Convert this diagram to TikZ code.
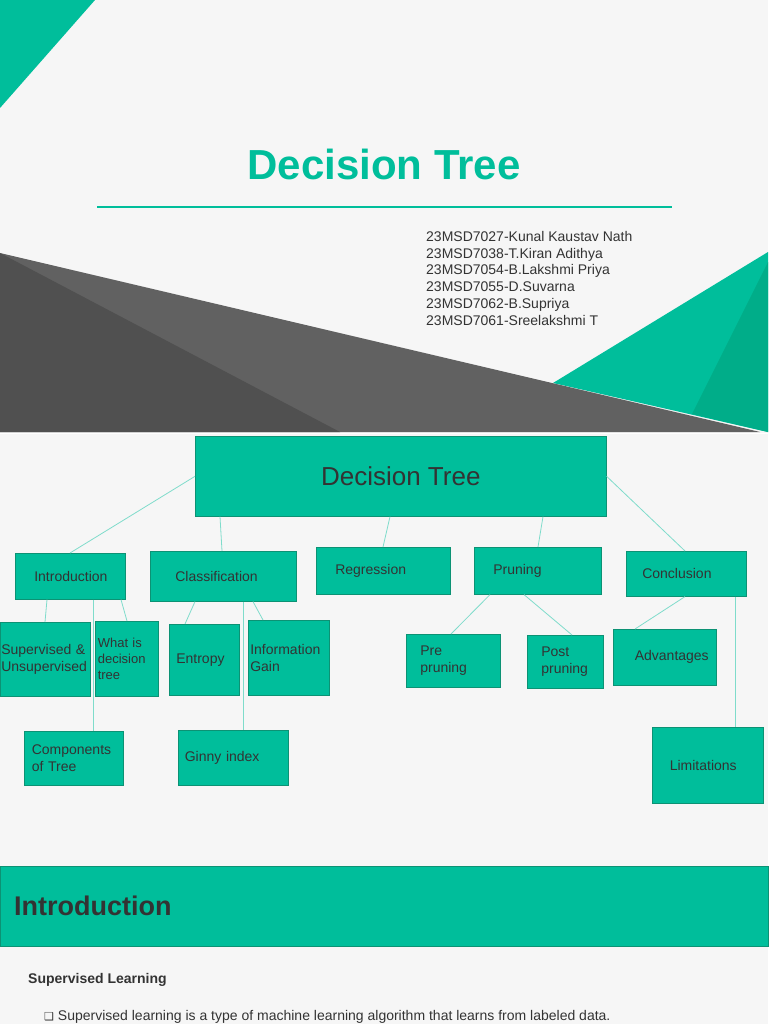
\documentclass[tikz,border=0pt]{standalone}
\usepackage{fontspec}
\setmainfont{Liberation Sans}
\newfontfamily\symfont{DejaVu Sans}
\usetikzlibrary{calc}
\definecolor{bg}{HTML}{F6F6F6}
\definecolor{teal}{HTML}{00BE9B}
\definecolor{tealdk}{HTML}{00AD89}
\definecolor{tealedge}{HTML}{0C9274}
\definecolor{greyA}{HTML}{505050}
\definecolor{greyB}{HTML}{616161}
\definecolor{txt}{HTML}{333333}
\definecolor{conn}{HTML}{7FDCCB}
\tikzset{
  bx/.style={draw=tealedge, fill=teal, line width=0.6pt, anchor=north west, inner sep=2pt, align=left, text=txt, font=\fontsize{14}{17}\selectfont},
  cn/.style={draw=conn, line width=0.8pt}
}
\begin{document}
\begin{tikzpicture}[x=1pt,y=-1pt]
\fill[bg] (0,0) rectangle (768,1024);
\useasboundingbox (0,0) rectangle (768,1024);
% slide 1
\fill[teal] (0,0) -- (95,0) -- (0,108) -- cycle;
\node[text=teal, font=\bfseries\fontsize{42}{48}\selectfont] (title) at (384,164) {Decision Tree};
\draw[teal, line width=1.5pt] (97,207) -- (672,207);
\node[anchor=north west, align=left, text=txt, font=\fontsize{14}{16.8}\selectfont, inner sep=0pt] (names) at (426,231) {23MSD7027-Kunal Kaustav Nath\\23MSD7038-T.Kiran Adithya\\23MSD7054-B.Lakshmi Priya\\23MSD7055-D.Suvarna\\23MSD7062-B.Supriya\\23MSD7061-Sreelakshmi T};
\fill[teal] (553,383) -- (768,252) -- (768,432) -- cycle;
\fill[tealdk] (692,414) -- (768,262) -- (768,432) -- cycle;
\fill[greyB] (0,253) -- (760,432) -- (0,432) -- cycle;
\fill[greyA] (0,253) -- (340,432) -- (0,432) -- cycle;
\draw[white, line width=1pt] (0,433) -- (768,433);
% slide 2
\node[bx, minimum width=411, minimum height=80, align=center, font=\fontsize{26}{30}\selectfont] (main) at (195,436) {Decision Tree};
\node[bx, minimum width=110, minimum height=46, text width=100] (intro) at (15,553) {\hspace*{14pt}Introduction};
\node[bx, minimum width=146, minimum height=50, text width=136] (clas) at (150,551) {\hspace*{20pt}Classification};
\node[bx, minimum width=134, minimum height=47, text width=124, inner ysep=4pt] (reg) at (316,547) {\hspace*{14pt}Regression\\[8pt]};
\node[bx, minimum width=127, minimum height=47, text width=117, inner ysep=4pt] (prun) at (474,547) {\hspace*{14pt}Pruning\\[8pt]};
\node[bx, minimum width=120, minimum height=45, text width=110] (conc) at (626,551) {\hspace*{11pt}Conclusion};
\node[bx, minimum width=90, minimum height=74, text width=88, inner sep=1pt] (sup) at (0,622) {Supervised \&\\Unsupervised};
\node[bx, minimum width=63, minimum height=75, text width=58, font=\fontsize{13}{16}\selectfont] (what) at (95,621) {What is\\decision\\tree\\[10pt]};
\node[bx, minimum width=70, minimum height=71, text width=62] (entr) at (169,624) {\hspace*{3pt}Entropy\\[18pt]};
\node[bx, minimum width=81, minimum height=75, text width=77, inner sep=1pt] (info) at (248,620) {Information\\Gain\\[18pt]};
\node[bx, minimum width=99, minimum height=54, text width=92] (comp) at (24,731) {\hspace*{4pt}Components\\\hspace*{4pt}of Tree};
\node[bx, minimum width=110, minimum height=55, text width=103] (ginny) at (178,730) {\hspace*{3pt}Ginny index};
\node[bx, minimum width=94, minimum height=53, text width=86] (pre) at (406,634) {\hspace*{10pt}Pre\\\hspace*{10pt}pruning};
\node[bx, minimum width=76, minimum height=53, text width=68] (post) at (527,635) {\hspace*{10pt}Post\\\hspace*{10pt}pruning};
\node[bx, minimum width=103, minimum height=56, text width=96] (adv) at (613,629) {\hspace*{18pt}Advantages};
\node[bx, minimum width=111, minimum height=76, text width=104] (lim) at (652,727) {\hspace*{14pt}Limitations};
% connectors
\draw[cn] ($(intro.north west)+(55,0)$) -- (main.west);
\draw[cn] ($(clas.north west)+(72,0)$) -- ($(main.south west)+(25,0)$);
\draw[cn] ($(reg.north west)+(67,0)$) -- ($(main.south west)+(195,0)$);
\draw[cn] ($(prun.north west)+(64,0)$) -- ($(main.south west)+(348,0)$);
\draw[cn] ($(conc.north west)+(59,0)$) -- (main.east);
\draw[cn] ($(intro.south west)+(32,0)$) -- ($(sup.north west)+(45,0)$);
\draw[cn] ($(intro.south west)+(106,0)$) -- ($(what.north west)+(32,0)$);
\draw[cn] ($(intro.south west)+(78,0)$) -- ($(comp.north west)+(69,0)$);
\draw[cn] ($(clas.south west)+(45,0)$) -- ($(entr.north west)+(16,0)$);
\draw[cn] ($(clas.south west)+(103,0)$) -- ($(info.north west)+(15,0)$);
\draw[cn] ($(clas.south west)+(93,0)$) -- ($(ginny.north west)+(65,0)$);
\draw[cn] ($(prun.south west)+(16,0)$) -- ($(pre.north west)+(45,0)$);
\draw[cn] ($(prun.south west)+(50,0)$) -- ($(post.north west)+(45,0)$);
\draw[cn] ($(conc.south west)+(59,0)$) -- ($(adv.north west)+(22,0)$);
\draw[cn] ($(conc.south west)+(109,0)$) -- ($(lim.north west)+(83,0)$);
% slide 3
\node[draw=tealedge, fill=teal, line width=0.6pt, anchor=north west, minimum width=768, minimum height=80, inner sep=0pt] (band) at (0,866) {};
\node[anchor=west, text=txt, font=\bfseries\fontsize{27}{32}\selectfont, inner sep=0pt] (htitle) at (14,906) {Introduction};
\node[anchor=west, text=txt, font=\bfseries\fontsize{14}{16}\selectfont, inner sep=0pt] (sub) at (28,980) {Supervised Learning};
\node[anchor=west, text=txt, font=\fontsize{14}{16}\selectfont, inner sep=0pt] (bul) at (44,1017) {{\symfont\fontsize{11}{13}\selectfont ❑}\ Supervised learning is a type of machine learning algorithm that learns from labeled data.};
\end{tikzpicture}
\end{document}
